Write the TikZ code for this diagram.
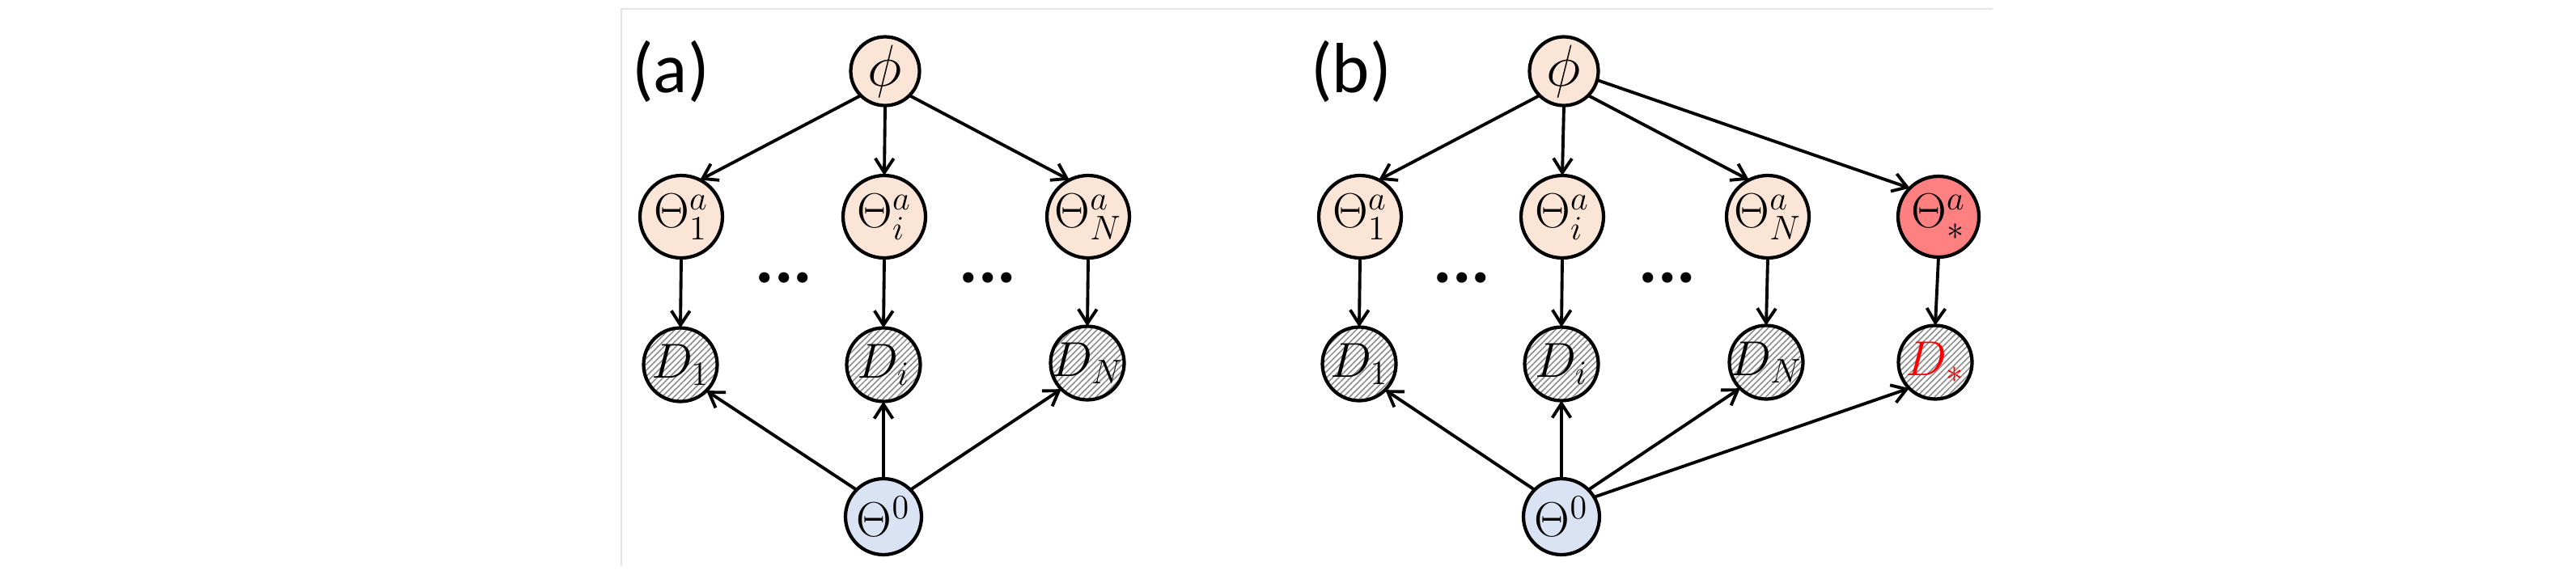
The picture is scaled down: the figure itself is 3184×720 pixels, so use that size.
\documentclass[tikz,border=0pt]{standalone}
\usepackage{fontspec}
\newfontfamily\lblfont{Carlito}
\usetikzlibrary{arrows.meta,patterns.meta}
\definecolor{peach}{HTML}{FBE5D6}
\definecolor{paleblue}{HTML}{DAE3F3}
\definecolor{salmon}{HTML}{FF8080}
\definecolor{framegray}{HTML}{E4E4E4}
\newcommand{\nodemath}[1]{\makebox[0pt]{$#1$}}
\begin{document}
\begin{tikzpicture}[x=0.1mm,y=0.1mm,
  var/.style={circle, draw=black, line width=1.2pt, inner sep=0pt, outer sep=0pt, font=\fontsize{18}{21}\selectfont},
  thetanode/.style={var, fill=peach, minimum size=10.2mm},
  phinode/.style={var, fill=peach, minimum size=8.5mm, font=\fontsize{20}{23}\selectfont},
  starnode/.style={var, fill=salmon, minimum size=10.0mm},
  datanode/.style={var, minimum size=9.1mm, pattern={Lines[angle=45,distance=1.5pt,line width=0.45pt]}, pattern color=black!45},
  globalnode/.style={var, fill=paleblue, minimum size=9.4mm},
  conn/.style={line width=1.1pt, -{Straight Barb[length=5pt,width=6.5pt,line width=1.1pt]}},
  panel/.style={font=\lblfont\fontsize{25}{30}\selectfont, inner sep=0pt},
  dotsnode/.style={font=\lblfont\bfseries\fontsize{25}{30}\selectfont, inner sep=0pt, anchor=base},
  framing/.style={draw=framegray, line width=0.5pt}
]
\useasboundingbox (0,0) rectangle (3184,720);

% faint frame
\coordinate (fA) at (768,20);
\coordinate (fB) at (768,709);
\coordinate (fC) at (2463,709);
\draw[framing] (fA) -- (fB) -- (fC);

% ---------------- (a) ----------------
\node[panel] (labA) at (829,632) {(a)};
\node[phinode] (phiA) at (1094,632) {\nodemath{\phi}};
\node[thetanode] (T1A) at (842,452) {\nodemath{\Theta_1^a}};
\node[thetanode] (TiA) at (1093,452) {\nodemath{\Theta_i^a}};
\node[thetanode] (TNA) at (1345,452) {\nodemath{\Theta_N^a}};
\node[datanode] (D1A) at (841,269) {\nodemath{D_1}};
\node[datanode] (DiA) at (1092,269) {\nodemath{D_i}};
\node[datanode] (DNA) at (1344,271) {\nodemath{D_N}};
\node[globalnode] (T0A) at (1092,81) {\nodemath{\Theta^0}};
\node[dotsnode] (dA1) at (969,371) {...};
\node[dotsnode] (dA2) at (1221,371) {...};

\draw[conn] (phiA.225) -- (T1A.63);
\draw[conn] (phiA.south) -- (TiA.north);
\draw[conn] (phiA.315) -- (TNA.117);
\draw[conn] (T1A.south) -- (D1A.north);
\draw[conn] (TiA.south) -- (DiA.north);
\draw[conn] (TNA.south) -- (DNA.north);
\draw[conn] (T0A.135) -- (D1A.315);
\draw[conn] (T0A.north) -- (DiA.south);
\draw[conn] (T0A.45) -- (DNA.225);

% ---------------- (b) ----------------
\node[panel] (labB) at (1670,632) {(b)};
\node[phinode] (phiB) at (1933,632) {\nodemath{\phi}};
\node[thetanode] (T1B) at (1681,452) {\nodemath{\Theta_1^a}};
\node[thetanode] (TiB) at (1931,452) {\nodemath{\Theta_i^a}};
\node[thetanode] (TNB) at (2185,452) {\nodemath{\Theta_N^a}};
\node[starnode] (TsB) at (2396,452) {\nodemath{\Theta_*^a}};
\node[datanode] (D1B) at (1680,270) {\nodemath{D_1}};
\node[datanode] (DiB) at (1930,270) {\nodemath{D_i}};
\node[datanode] (DNB) at (2183,272) {\nodemath{D_N}};
\node[datanode] (DsB) at (2392,272) {\nodemath{\color{red}D_*}};
\node[globalnode] (T0B) at (1930,81) {\nodemath{\Theta^0}};
\node[dotsnode] (dB1) at (1807,371) {...};
\node[dotsnode] (dB2) at (2061,371) {...};

\draw[conn] (phiB.225) -- (T1B.63);
\draw[conn] (phiB.south) -- (TiB.north);
\draw[conn] (phiB.315) -- (TNB.117);
\draw[conn] (phiB.345) -- (TsB.135);
\draw[conn] (T1B.south) -- (D1B.north);
\draw[conn] (TiB.south) -- (DiB.north);
\draw[conn] (TNB.south) -- (DNB.north);
\draw[conn] (TsB.south) -- (DsB.north);
\draw[conn] (T0B.135) -- (D1B.315);
\draw[conn] (T0B.north) -- (DiB.south);
\draw[conn] (T0B.45) -- (DNB.225);
\draw[conn] (T0B.31) -- (DsB.225);
\end{tikzpicture}
\end{document}
